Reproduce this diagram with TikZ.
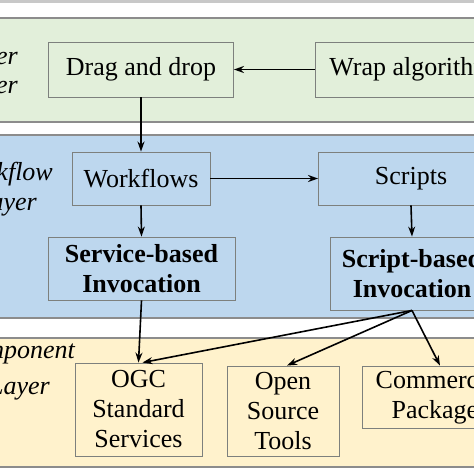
\documentclass[tikz,border=0pt]{standalone}
\usepackage{fontspec}
\setmainfont{Liberation Serif}
\usetikzlibrary{arrows.meta}
\definecolor{lgreen}{RGB}{226,239,218}
\definecolor{lblue}{RGB}{189,215,238}
\definecolor{lyellow}{RGB}{255,242,204}
\definecolor{boxgray}{RGB}{125,128,125}
\definecolor{layergray}{RGB}{140,140,140}
\definecolor{topband}{RGB}{200,200,200}
\begin{document}
\begin{tikzpicture}[x=1pt,y=-1pt,
  font=\fontsize{26}{30}\selectfont,
  box/.style={draw=boxgray, line width=0.9pt, inner sep=0pt, align=center},
  boldbox/.style={box, font=\fontsize{26}{30}\selectfont\bfseries},
  layer/.style={draw=layergray, line width=1.3pt},
  lbl/.style={font=\fontsize{26}{30}\selectfont\itshape, inner sep=0pt},
  arr/.style={-{Stealth[length=10pt,width=7pt]}, line width=1.6pt}]
\useasboundingbox (0,0) rectangle (474,474);
\clip (0,0) rectangle (474,474);
\fill[white] (0,0) rectangle (474,474);
\fill[topband] (0,0) rectangle (474,2.5);
% layers
\filldraw[layer, fill=lgreen] (-10,18) rectangle (484,122);
\filldraw[layer, fill=lblue] (-10,135) rectangle (484,318);
\filldraw[layer, fill=lyellow] (-10,338) rectangle (484,467);
% layer labels
\node[lbl, anchor=base east] (u1) at (18,64) {User};
\node[lbl, anchor=base east] (u2) at (18,93) {Layer};
\node[lbl, anchor=base east] (w1) at (53,180) {Workflow};
\node[lbl, anchor=base east] (w2) at (37,210) {Layer};
\node[lbl, anchor=base east] (c1) at (75,358) {Component};
\node[lbl, anchor=base east] (c2) at (50,394) {Layer};
% user layer
\node[box, fill=lgreen, minimum width=185pt, minimum height=55pt] (drag) at (141,69.5) {Drag and drop};
\node[box, fill=lgreen, minimum width=193pt, minimum height=55pt] (wrap) at (411.5,69.5) {Wrap algorithm};
% workflow layer
\node[box, fill=lblue, minimum width=138pt, minimum height=53pt] (workflows) at (141,178.5) {Workflows};
\node[box, fill=lblue, minimum width=185pt, minimum height=53pt] (scripts) at (411,178.5) {Scripts};
\node[boldbox, fill=lblue, minimum width=187pt, minimum height=63pt] (service) at (141.5,268.5) {Service-based\\Invocation};
\node[boldbox, fill=lblue, minimum width=164pt, minimum height=73pt] (scriptinv) at (412,273.5) {Script-based\\Invocation};
% component layer
\node[box, fill=lyellow, minimum width=127pt, minimum height=93pt] (ogc) at (138.5,409.5) {OGC\\Standard\\Services};
\node[box, fill=lyellow, minimum width=112pt, minimum height=90pt] (open) at (283,411) {Open\\Source\\Tools};
\node[box, fill=lyellow, minimum width=156pt, minimum height=62pt] (comm) at (440,397) {Commercial\\Packages};
% connectors
\draw[arr] (wrap.west) -- (drag.east);
\draw[arr] (drag.south) -- (workflows.north);
\draw[arr] (workflows.east) -- (scripts.west);
\draw[arr] (workflows.south) -- (service.north);
\draw[arr] (scripts.south) -- (scriptinv.north);
\draw[arr] (service.south) -- (ogc.north);
\draw[arr] (scriptinv.south) -- ([xshift=4pt]ogc.north);
\draw[arr] (scriptinv.south) -- ([xshift=4pt]open.north);
\draw[arr] (scriptinv.south) -- (comm.north);
\end{tikzpicture}
\end{document}
